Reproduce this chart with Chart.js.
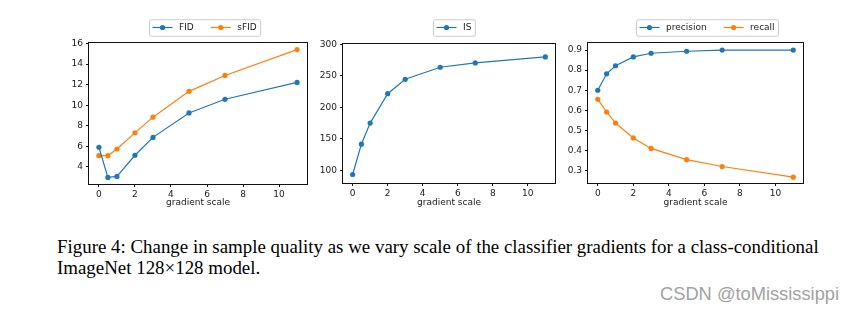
<!DOCTYPE html>
<html>
<head>
<meta charset="utf-8">
<script src="https://cdn.jsdelivr.net/npm/chart.js@4.4.1/dist/chart.umd.min.js"></script>
<style>
  html, body { margin: 0; padding: 0; background: #fff; }
  body { width: 856px; height: 313px; position: relative; overflow: hidden; }
  canvas { position: absolute; top: 0; }
  #caption { position: absolute; left: 57px; top: 235.5px; font-family: "Liberation Serif", serif; font-size: 18.9px; line-height: 21.3px; color: #000; white-space: nowrap; }
  #mark { position: absolute; left: 660px; top: 284px; font-family: "Liberation Sans", sans-serif; font-size: 18.3px; line-height: 20px; color: #a2a2a2; white-space: nowrap; text-shadow: 0 0 1px #fff; }
</style>
</head>
<body>
<canvas id="chart-fid" width="271" height="212" style="left:44px"></canvas>
<canvas id="chart-is" width="265" height="212" style="left:298px"></canvas>
<canvas id="chart-pr" width="268" height="212" style="left:543px"></canvas>
<div id="caption">Figure 4: Change in sample quality as we vary scale of the classifier gradients for a class-conditional<br>ImageNet 128×128 model.</div>
<div id="mark">CSDN @toMississippi</div>
<script>
// gradient scale on the x axis, shared by all three panels
var gradScale = [0, 0.5, 1, 2, 3, 5, 7, 11];

var fid = [5.91, 2.97, 3.07, 5.13, 6.87, 9.25, 10.58, 12.22];
var sfid = [5.09, 5.09, 5.74, 7.31, 8.84, 11.35, 12.9, 15.42];
var isScore = [93.3, 141.4, 174.8, 221.5, 244.3, 263.4, 270.3, 279.8];
var precision = [0.70, 0.782, 0.822, 0.866, 0.884, 0.894, 0.90, 0.90];
var recall = [0.655, 0.592, 0.537, 0.463, 0.411, 0.355, 0.321, 0.268];

var xTicks = [0, 2, 4, 6, 8, 10];
var fidTicks = [4, 6, 8, 10, 12, 14, 16];
var isTicks = [100, 150, 200, 250, 300];
var prTicks = [0.3, 0.4, 0.5, 0.6, 0.7, 0.8, 0.9];

var BLUE = '#1f77b4', ORANGE = '#ff7f0e', INK = '#1a1a1a';
var H = 212;

Chart.defaults.font.family = "'DejaVu Sans', sans-serif";
Chart.defaults.font.size = 9;
Chart.defaults.color = INK;

function series(label, ys, color) {
  return {
    label: label,
    data: gradScale.map(function (x, i) { return {x: x, y: ys[i]}; }),
    borderColor: color,
    backgroundColor: color,
    pointBackgroundColor: color,
    borderWidth: 1.2,
    pointRadius: 2.6,
    pointHoverRadius: 2.6,
    pointBorderWidth: 0,
    tension: 0
  };
}

// black box round the plot, like matplotlib spines
var frame = {
  id: 'frame',
  afterDatasetsDraw: function (chart) {
    var a = chart.chartArea, ctx = chart.ctx;
    ctx.save();
    ctx.strokeStyle = '#111';
    ctx.lineWidth = 1;
    ctx.strokeRect(Math.round(a.left) - 0.5, Math.round(a.top) - 0.5,
      Math.round(a.right - a.left) + 1, Math.round(a.bottom - a.top) + 1);
    ctx.restore();
  }
};

// legend with line + marker handles in a light rounded box
var boxLegend = {
  id: 'boxLegend',
  afterDraw: function (chart, args, opts) {
    var ctx = chart.ctx, a = chart.chartArea;
    var pad = 3.5, handle = 20, gap = 6.5, colGap = 17, h = 16.5;
    var sets = chart.data.datasets;
    ctx.save();
    ctx.font = "9px 'DejaVu Sans'";
    var w = pad * 2;
    sets.forEach(function (ds, i) {
      w += handle + gap + ctx.measureText(ds.label).width + (i ? colGap : 0);
    });
    var x0 = a.left + opts.left, cy = opts.y;
    ctx.beginPath();
    if (ctx.roundRect) ctx.roundRect(x0 + 0.5, cy - h / 2 + 0.5, w, h, 2);
    else ctx.rect(x0 + 0.5, cy - h / 2 + 0.5, w, h);
    ctx.fillStyle = 'rgba(255,255,255,0.8)';
    ctx.fill();
    ctx.strokeStyle = '#cccccc';
    ctx.lineWidth = 1;
    ctx.stroke();
    var x = x0 + pad;
    sets.forEach(function (ds, i) {
      if (i) x += colGap;
      ctx.strokeStyle = ds.borderColor;
      ctx.lineWidth = 1.2;
      ctx.beginPath();
      ctx.moveTo(x, cy);
      ctx.lineTo(x + handle, cy);
      ctx.stroke();
      ctx.fillStyle = ds.borderColor;
      ctx.beginPath();
      ctx.arc(x + handle / 2, cy, 2.6, 0, Math.PI * 2);
      ctx.fill();
      x += handle + gap;
      ctx.fillStyle = INK;
      ctx.textBaseline = 'middle';
      ctx.fillText(ds.label, x, cy + 0.5);
      x += ctx.measureText(ds.label).width;
    });
    ctx.restore();
  }
};

function makeChart(id, datasets, yMin, yMax, yTicks, yFmt, legendLeft, plotTop, plotBottom) {
  return new Chart(document.getElementById(id), {
    type: 'line',
    data: { datasets: datasets },
    plugins: [frame, boxLegend],
    options: {
      responsive: false,
      animation: false,
      devicePixelRatio: 1,
      layout: { padding: { left: 5, right: 8, top: plotTop, bottom: 0 } },
      plugins: {
        legend: { display: false },
        tooltip: { enabled: false },
        boxLegend: { left: legendLeft, y: 27.5 }
      },
      scales: {
        x: {
          type: 'linear',
          min: -0.55,
          max: 11.55,
          afterBuildTicks: function (s) { s.ticks = xTicks.map(function (v) { return {value: v}; }); },
          afterFit: function (s) { s.height = H - plotBottom; },
          grid: { drawOnChartArea: false, drawTicks: true, tickLength: 3, color: '#111' },
          border: { display: false },
          ticks: { padding: 2, maxRotation: 0, autoSkip: false, color: INK },
          title: { display: true, text: 'gradient scale', color: INK, padding: { top: 0, bottom: 3.5 } }
        },
        y: {
          type: 'linear',
          min: yMin,
          max: yMax,
          afterBuildTicks: function (s) { s.ticks = yTicks.map(function (v) { return {value: v}; }); },
          afterFit: function (s) { s.width = 40; },
          grid: { drawOnChartArea: false, drawTicks: true, tickLength: 3, color: '#111' },
          border: { display: false },
          ticks: { padding: 3, autoSkip: false, color: INK, callback: yFmt }
        }
      }
    }
  });
}

function plain(v) { return String(v); }
function oneDecimal(v) { return v.toFixed(1); }

makeChart('chart-fid', [series('FID', fid, BLUE), series('sFID', sfid, ORANGE)],
  2.33, 16.06, fidTicks, plain, 60, 43, 184);
makeChart('chart-is', [series('IS', isScore, BLUE)],
  79.8, 300.3, isTicks, plain, 90, 44, 183);
makeChart('chart-pr', [series('precision', precision, BLUE), series('recall', recall, ORANGE)],
  0.239, 0.935, prTicks, oneDecimal, 48, 43, 183);
</script>
</body>
</html>
